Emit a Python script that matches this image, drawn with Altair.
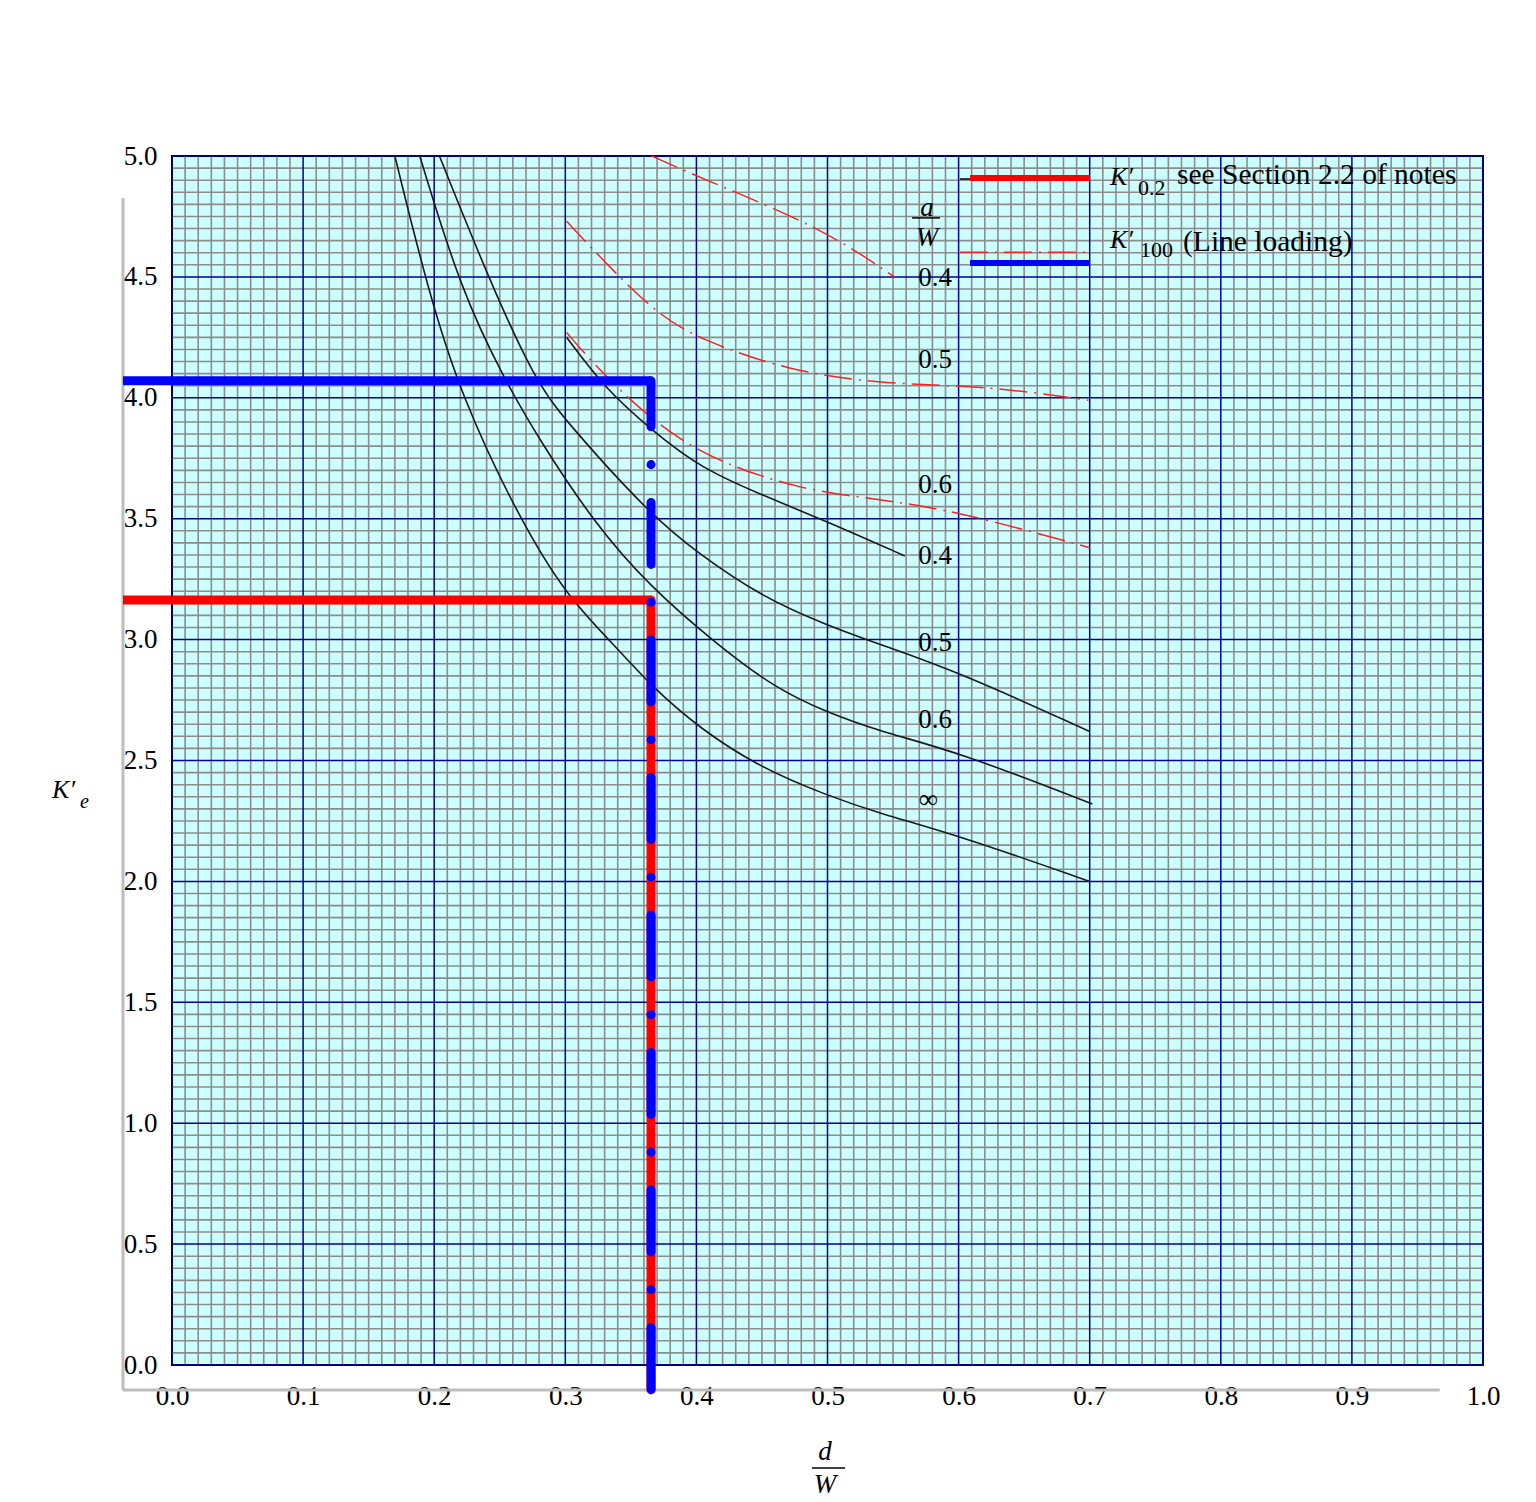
import altair as alt
import pandas as pd

# ---------------- data ----------------
# K'0.2 curves (solid black), x = d/W, y = K'e
inf_x = [0.170, 0.195, 0.221, 0.265, 0.301, 0.337, 0.365, 0.403, 0.449, 0.499, 0.540, 0.600, 0.700]
inf_y = [5.00, 4.45, 4.00, 3.50, 3.18, 2.98, 2.81, 2.63, 2.47, 2.357, 2.28, 2.19, 2.00]
k06_x = [0.189, 0.220, 0.254, 0.281, 0.321, 0.365, 0.418, 0.460, 0.499, 0.540, 0.600, 0.702]
k06_y = [5.00, 4.45, 4.07, 3.82, 3.49, 3.215, 2.97, 2.80, 2.70, 2.62, 2.535, 2.32]
k05_x = [0.204, 0.241, 0.277, 0.301, 0.365, 0.403, 0.449, 0.499, 0.540, 0.600, 0.700]
k05_y = [5.00, 4.50, 4.07, 3.90, 3.515, 3.35, 3.18, 3.06, 2.98, 2.866, 2.62]
k04_x = [0.301, 0.330, 0.365, 0.403, 0.449, 0.499, 0.559]
k04_y = [4.25, 4.04, 3.87, 3.71, 3.60, 3.49, 3.346]

# K'100 curves (red dash-dot)
r04_x = [0.366, 0.403, 0.497, 0.551]
r04_y = [5.00, 4.91, 4.70, 4.50]
r05_x = [0.301, 0.365, 0.403, 0.471, 0.540, 0.601, 0.647, 0.699]
r05_y = [4.73, 4.36, 4.24, 4.11, 4.06, 4.05, 4.03, 3.99]
r06_x = [0.301, 0.319, 0.351, 0.386, 0.420, 0.479, 0.540, 0.600, 0.700]
r06_y = [4.27, 4.156, 3.98, 3.83, 3.73, 3.62, 3.58, 3.53, 3.38]

# reading lines
read_x = 0.3654
k02_read = 3.164
k100_read = 4.07
left_end = -0.0374
bottom_end = -0.103

x_ticks = [0.0, 0.1, 0.2, 0.3, 0.4, 0.5, 0.6, 0.7, 0.8, 0.9, 1.0]
y_ticks = [0.0, 0.5, 1.0, 1.5, 2.0, 2.5, 3.0, 3.5, 4.0, 4.5, 5.0]

curve_label_x = 0.582
black_labels = ["0.4", "0.5", "0.6", "\u221e"]
black_label_y = [3.346, 2.986, 2.667, 2.337]
red_labels = ["0.4", "0.5", "0.6"]
red_label_y = [4.495, 4.156, 3.639]

FONT = "Liberation Serif"
W, H = 1311, 1209

xscale = alt.Scale(domain=[0, 1], nice=False, zero=False)
yscale = alt.Scale(domain=[0, 5], nice=False, zero=False)
xaxis = alt.Axis(values=x_ticks, format=".1f", grid=False, ticks=False, domain=False,
                 labelFont=FONT, labelFontSize=27, labelColor="black", labelPadding=18,
                 labelFlush=False, labelOverlap=False, labelBound=False, title=None)
yaxis = alt.Axis(values=y_ticks, format=".1f", grid=False, ticks=False, domain=False,
                 labelFont=FONT, labelFontSize=27, labelColor="black", labelPadding=15,
                 labelFlush=False, labelOverlap=False, labelBound=False, title=None)


def X(f="x"):
    return alt.X(f"{f}:Q", scale=xscale, axis=xaxis)


def Y(f="y"):
    return alt.Y(f"{f}:Q", scale=yscale, axis=yaxis)


# ---------------- grid ----------------
minor_v = pd.DataFrame({"x": [i / 100 for i in range(101) if i % 10]})
major_v = pd.DataFrame({"x": [i / 10 for i in range(11)]})
minor_h = pd.DataFrame({"y": [i / 20 for i in range(101) if i % 10]})
major_h = pd.DataFrame({"y": [i / 2 for i in range(11)]})

grid = (
    alt.Chart(minor_v).mark_rule(color="#8c8c8c", strokeWidth=1.6).encode(x=X())
    + alt.Chart(minor_h).mark_rule(color="#8c8c8c", strokeWidth=1.6).encode(y=Y())
    + alt.Chart(major_v).mark_rule(color="#000099", strokeWidth=1.5).encode(x=X())
    + alt.Chart(major_h).mark_rule(color="#000099", strokeWidth=1.5).encode(y=Y())
)


def curve(xs, ys, name):
    return pd.DataFrame({"x": xs, "y": ys, "c": name})


black_df = pd.concat([curve(inf_x, inf_y, "inf"), curve(k06_x, k06_y, "0.6"),
                      curve(k05_x, k05_y, "0.5"), curve(k04_x, k04_y, "0.4")])
red_df = pd.concat([curve(r04_x, r04_y, "0.4"), curve(r05_x, r05_y, "0.5"),
                    curve(r06_x, r06_y, "0.6")])

black_curves = alt.Chart(black_df).mark_line(color="#1a1a1a", strokeWidth=1.6,
                                              interpolate="basis").encode(
    x=X(), y=Y(), detail="c:N")
red_curves = alt.Chart(red_df).mark_line(color="#ff2020", strokeWidth=1.5,
                                          interpolate="basis",
                                          strokeDash=[28, 7, 2, 7]).encode(
    x=X(), y=Y(), detail="c:N")

# ---------------- reading lines ----------------
red_h = alt.Chart(pd.DataFrame({"x": [left_end], "x2": [read_x], "y": [k02_read]})).mark_rule(
    color="#ff0000", strokeWidth=9, strokeCap="butt").encode(x=X(), x2="x2:Q", y=Y())
red_v = alt.Chart(pd.DataFrame({"x": [read_x], "y": [k02_read], "y2": [bottom_end]})).mark_rule(
    color="#ff0000", strokeWidth=9, strokeCap="round").encode(x=X(), y=Y(), y2="y2:Q")
blue_h = alt.Chart(pd.DataFrame({"x": [left_end], "x2": [read_x], "y": [k100_read]})).mark_rule(
    color="#0000ff", strokeWidth=9, strokeCap="butt").encode(x=X(), x2="x2:Q", y=Y())
blue_v = alt.Chart(pd.DataFrame({"x": [read_x], "y": [k100_read], "y2": [bottom_end]})).mark_rule(
    color="#0000ff", strokeWidth=9, strokeCap="round", strokeDash=[62, 37.75, 0.001, 37.75],
    strokeDashOffset=16).encode(x=X(), y=Y(), y2="y2:Q")

# outer grey frame lines
frame_v = alt.Chart(pd.DataFrame({"x": [left_end], "y": [4.826], "y2": [bottom_end]})).mark_rule(
    color="#bdbdbd", strokeWidth=3).encode(x=X(), y=Y(), y2="y2:Q")
frame_h = alt.Chart(pd.DataFrame({"x": [left_end], "x2": [0.967], "y": [bottom_end]})).mark_rule(
    color="#bdbdbd", strokeWidth=3).encode(x=X(), x2="x2:Q", y=Y())

# ---------------- legend ----------------
leg_black = alt.Chart(pd.DataFrame({"x": [0.601], "x2": [0.700], "y": [4.905]})).mark_rule(
    color="black", strokeWidth=1.5).encode(x=X(), x2="x2:Q", y=Y())
leg_red = alt.Chart(pd.DataFrame({"x": [0.6087], "x2": [0.7002], "y": [4.909]})).mark_rule(
    color="#ff0000", strokeWidth=6).encode(x=X(), x2="x2:Q", y=Y())
leg_reddash = alt.Chart(pd.DataFrame({"x": [0.601], "x2": [0.700], "y": [4.602]})).mark_rule(
    color="#ff2020", strokeWidth=1.5, strokeDash=[28, 7, 2, 7]).encode(x=X(), x2="x2:Q", y=Y())
leg_blue = alt.Chart(pd.DataFrame({"x": [0.6087], "x2": [0.7002], "y": [4.558]})).mark_rule(
    color="#0000ff", strokeWidth=6).encode(x=X(), x2="x2:Q", y=Y())


# ---------------- texts ----------------
def texts(df, **kw):
    base = dict(font=FONT, color="black", baseline="middle")
    base.update(kw)
    return alt.Chart(df).mark_text(**base).encode(x=X(), y=Y(), text="t:N")


curve_lbls = texts(pd.DataFrame({
    "x": [curve_label_x] * 3 + [curve_label_x] * 3 + [0.577],
    "y": black_label_y[:3] + red_label_y + [black_label_y[3]],
    "t": black_labels[:3] + red_labels + [black_labels[3]]}), fontSize=27, align="center")

italic_big = texts(pd.DataFrame({
    "x": [0.5759, 0.5759, 0.498, 0.498],
    "y": [4.785, 4.661, -0.36, -0.496],
    "t": ["a", "W", "d", "W"]}), fontSize=27, fontStyle="italic", align="center")

frac_bars = alt.Chart(pd.DataFrame({"x": [0.5645, 0.4882], "x2": [0.5858, 0.5134],
                                    "y": [4.744, -0.426]})).mark_rule(
    color="black", strokeWidth=1.5).encode(x=X(), x2="x2:Q", y=Y())

k_prime = texts(pd.DataFrame({
    "x": [0.7155, 0.7155, -0.0915],
    "y": [4.913, 4.653, 2.378],
    "t": ["K\u2032", "K\u2032", "K\u2032"]}), fontSize=26, fontStyle="italic", align="left")

subs = texts(pd.DataFrame({
    "x": [0.7368, 0.7384],
    "y": [4.868, 4.611],
    "t": ["0.2", "100"]}), fontSize=22, align="left")

sub_e = texts(pd.DataFrame({"x": [-0.0702], "y": [2.328], "t": ["e"]}),
              fontSize=20, fontStyle="italic", align="left")

leg_text = texts(pd.DataFrame({
    "x": [0.7666, 0.7712],
    "y": [4.921, 4.644],
    "t": ["see Section 2.2 of notes", "(Line loading)"]}), fontSize=29.5, align="left")

chart = alt.layer(
    grid, black_curves, red_curves,
    frame_v, frame_h,
    red_h, red_v, blue_h, blue_v,
    leg_black, leg_red, leg_reddash, leg_blue,
    curve_lbls, italic_big, frac_bars, k_prime, subs, sub_e, leg_text,
).properties(
    width=W, height=H,
    autosize=alt.AutoSizeParams(type="none"),
    padding={"left": 172, "top": 156, "right": 53, "bottom": 137},
    background="white",
).configure_view(
    fill="#ccffff", stroke="black", strokeWidth=2
)

chart.save("out.html", embed_options={"renderer": "svg", "actions": False})
